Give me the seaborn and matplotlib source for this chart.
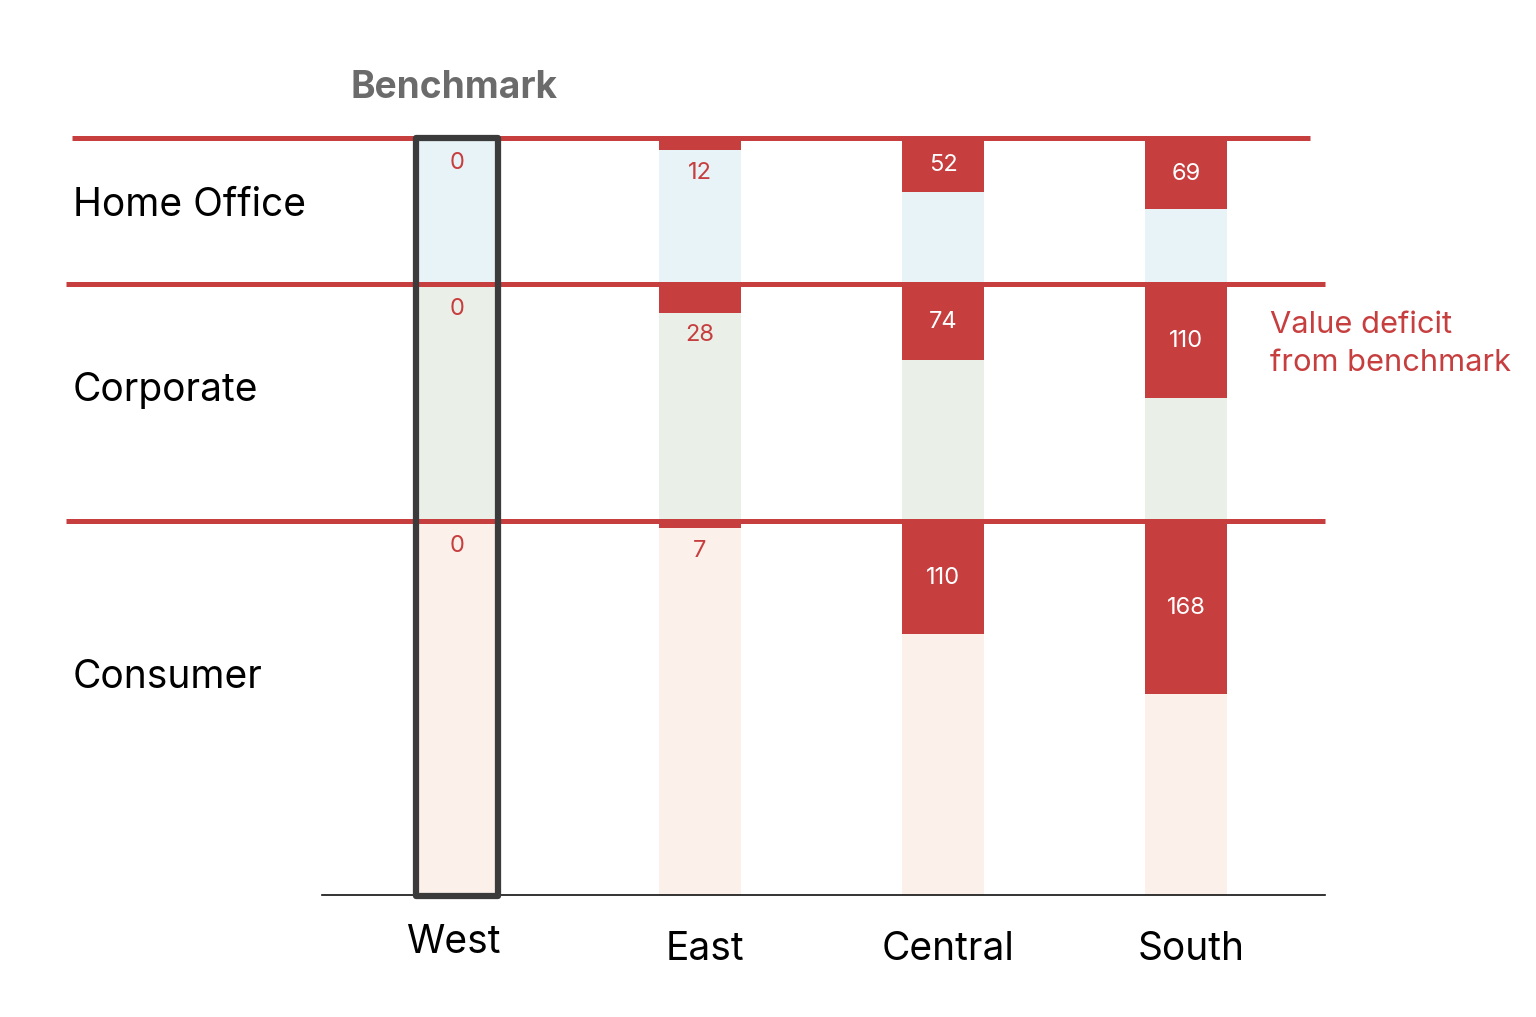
import pandas as pd
import matplotlib.pyplot as plt
import matplotlib.patches as mpatches
import seaborn as sns

# chart data
regions = ["West", "East", "Central", "South"]
segments = ["Consumer", "Corporate", "Home Office"]  # bottom -> top
benchmark = [363, 230, 142]  # West values per segment
deficit_consumer = [0, 7, 110, 168]
deficit_corporate = [0, 28, 74, 110]
deficit_home_office = [0, 12, 52, 69]

deficits = {"Consumer": deficit_consumer,
            "Corporate": deficit_corporate,
            "Home Office": deficit_home_office}

RED = "#C73E3F"
DARK = "#3B3B3B"
pale = {"Consumer": "#FBF0EA", "Corporate": "#EAF0E8", "Home Office": "#E8F3F8"}

sns.set_theme(style="white")
plt.rcParams["font.family"] = ["Inter", "DejaVu Sans"]

fig = plt.figure(figsize=(15.36, 10.17), dpi=100)
ax = fig.add_axes([322 / 1536, 1 - 895 / 1017, 1002.5 / 1536, 757 / 1017])

base = 0
for seg, bench in zip(segments, benchmark):
    df = pd.DataFrame({"region": regions, "deficit": deficits[seg]})
    df["value"] = bench - df["deficit"]
    top = base + bench

    # value part (pale) from the segment base
    sns.barplot(data=df, x="region", y="value", order=regions, bottom=base,
                color=pale[seg], saturation=1, width=0.34, linewidth=0,
                errorbar=None, ax=ax)
    # deficit part (red) hanging from the benchmark line
    sns.barplot(data=df, x="region", y="deficit", order=regions,
                bottom=(top - df["deficit"]).values, color=RED, saturation=1,
                width=0.34, linewidth=0, errorbar=None, ax=ax)

    for i, d in enumerate(df["deficit"]):
        if d >= 40:
            ax.text(i, top - d / 2, str(d), ha="center", va="center",
                    color="white", fontsize=17)
        else:
            # zero deficits sit a little lower under the line
            off = -18 if d == 0 else -16
            ax.annotate(str(d), (i, top - d), xytext=(0, off),
                        textcoords="offset points", ha="center", va="center",
                        color=RED, fontsize=17)

    ax.hlines(top, -1.61 if seg != "Home Office" else -1.585,
              3.57 if seg != "Home Office" else 3.51,
              color=RED, lw=3.6, clip_on=False, zorder=5)
    base = top

total = sum(benchmark)

# benchmark outline around West
ax.add_patch(mpatches.Rectangle((-0.17, -1), 0.34, total + 1, fill=False,
                                edgecolor=DARK, lw=4.5, joinstyle="round",
                                clip_on=False, zorder=6))

ax.set_xlim(-0.555, 3.57)
ax.set_ylim(0, total)
ax.set_xlabel("")
ax.set_ylabel("")
ax.set_xticks([])
ax.set_yticks([])
for side in ["top", "left", "right"]:
    ax.spines[side].set_visible(False)
ax.spines["bottom"].set_color("#111111")
ax.spines["bottom"].set_linewidth(1.2)

# region labels under the bars
for i, r in enumerate(regions):
    if r == "West":
        ax.text(i - 0.016, -46.5, r, ha="center", va="center", fontsize=28,
                color="black", clip_on=False)
    else:
        ax.text(i + 0.02, -52.5, r, ha="center", va="center", fontsize=28,
                color="black", clip_on=False)

# segment labels on the left
for label, yf in [("Home Office", 206), ("Corporate", 390), ("Consumer", 678)]:
    fig.text(73 / 1536, 1 - yf / 1017, label, ha="left", va="center",
             fontsize=28, color="black")

ax.text(-0.01, 784, "Benchmark", ha="center", va="center", fontsize=26.7,
        fontweight="bold", color="#6B6B6B", clip_on=False)
ax.text(3.346, 535, "Value deficit\nfrom benchmark", ha="left", va="center",
        fontsize=22.2, color=RED, linespacing=1.45, clip_on=False)

fig.savefig("out.png", dpi=100, facecolor="white")
